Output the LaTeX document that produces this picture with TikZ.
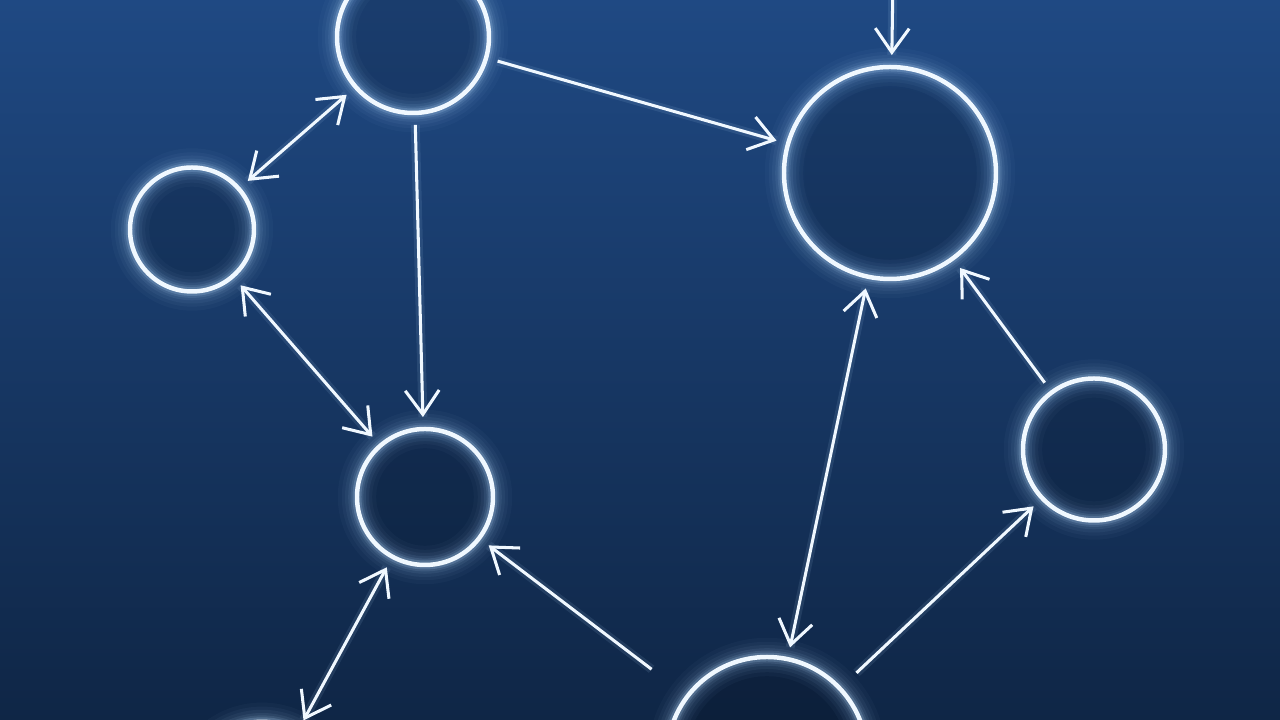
\documentclass[tikz,border=0pt]{standalone}
\usepackage{tikz}
\usetikzlibrary{arrows.meta,fadings}

\newlength{\du}
\setlength{\du}{9\unitlength}

\definecolor{bgtop}{RGB}{31,73,131}
\definecolor{bgmid}{RGB}{28,66,119}
\definecolor{bgbot}{RGB}{15,38,70}
\definecolor{ringwhite}{RGB}{240,248,255}
\definecolor{glowblue}{RGB}{185,222,255}

\tikzset{
  hub/.style={circle, inner sep=0pt, outer sep=0.375\du, draw=ringwhite, line width=0.14\du,
    preaction={fill=black, opacity=0.16, path fading=circle with fuzzy edge 20 percent},
    preaction={draw=glowblue, line width=1.20\du, opacity=0.03},
    preaction={draw=glowblue, line width=0.95\du, opacity=0.04},
    preaction={draw=glowblue, line width=0.75\du, opacity=0.05},
    preaction={draw=glowblue, line width=0.55\du, opacity=0.07},
    preaction={draw=glowblue, line width=0.40\du, opacity=0.10},
    preaction={draw=glowblue, line width=0.28\du, opacity=0.18}},
  barb/.tip={Straight Barb[length=6.75pt,width=9.54pt]},
  link/.style={draw=ringwhite, line width=0.095\du, -{barb},
    preaction={draw=glowblue, arrows=-, line width=0.28\du, opacity=0.10}},
  twoway/.style={link, {barb}-{barb}}
}

\begin{document}
\begin{tikzpicture}
\pgftransformxscale{1.000000}
\pgftransformyscale{-1.000000}
% background
\useasboundingbox (0.000000\du,0.000000\du) rectangle (40.000000\du,22.500000\du);
\shade[top color=bgtop, middle color=bgmid, bottom color=bgbot] (0.000000\du,0.000000\du) rectangle (40.000000\du,22.500000\du);
% hubs
\node[hub, minimum size=4.750000\du] (hubA) at (12.906250\du,1.156250\du) {};
\node[hub, minimum size=6.625000\du] (hubB) at (27.812500\du,5.406250\du) {};
\node[hub, minimum size=3.875000\du] (hubC) at (6.000000\du,7.171875\du) {};
\node[hub, minimum size=4.250000\du] (hubD) at (13.281250\du,15.531250\du) {};
\node[hub, minimum size=4.437500\du] (hubE) at (34.187500\du,14.046875\du) {};
\node[hub, minimum size=6.250000\du] (hubF) at (23.968750\du,23.656250\du) {};
\node[hub, minimum size=4.687500\du] (hubG) at (8.187500\du,24.900000\du) {};
\coordinate (topin) at (27.906250\du,-0.625000\du);
% links
\draw[link] (hubA) -- (hubB);
\draw[twoway] (hubA) -- (hubC);
\draw[link] (hubA) -- (hubD);
\draw[twoway] (hubC) -- (hubD);
\draw[link] (topin) -- (hubB);
\draw[twoway] (hubB) -- (hubF);
\draw[link] (hubE) -- (hubB);
\draw[link, shorten <=0.340000\du] (hubF) -- (hubE);
\draw[link, shorten <=1.030000\du] (hubF) -- (hubD);
\draw[twoway] (hubD) -- (hubG);
\end{tikzpicture}
\end{document}
